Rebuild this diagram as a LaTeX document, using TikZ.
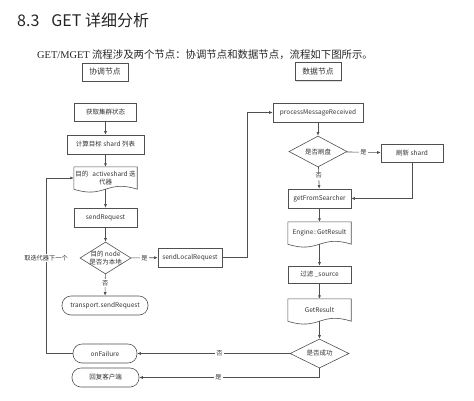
\documentclass[tikz,border=0pt]{standalone}
\usepackage{fontspec}
\setmainfont{Noto Sans CJK SC}
\newfontfamily\latinserif{Liberation Serif}
\usetikzlibrary{%
        arrows.meta,
        shapes.geometric,
        shadows
    }
\definecolor{inkgray}{RGB}{80, 80, 80}
\tikzset{%
    box/.style={%
        draw=inkgray, line width=0.6pt, text=black!80,
        minimum width=63pt, minimum height=19pt, inner sep=1pt,
        font=\fontsize{6.5}{8}\selectfont, align=center
    },
    headbox/.style={%
        box, minimum width=46pt, minimum height=18pt,
        font=\fontsize{7.8}{9}\selectfont, fill=white,
        drop shadow={shadow xshift=1pt, shadow yshift=-1pt, opacity=0.25}
    },
    docbox/.style={%
        draw=none, text=black!80, minimum width=63pt, minimum height=22pt,
        inner sep=1pt, font=\fontsize{6.5}{8}\selectfont, align=center
    },
    roundbox/.style={box, rounded corners=9pt},
    decision/.style={%
        diamond, draw=inkgray, line width=0.6pt, inner sep=0pt
    },
    small/.style={%
        text=black!80, inner sep=0pt,
        font=\fontsize{6.5}{8}\selectfont, align=center
    },
    tag/.style={small, fill=white, inner sep=1.5pt, font=\fontsize{6.2}{7}\selectfont},
    flow/.style={%
        draw=inkgray, line width=0.6pt,
        -{Latex[length=3.5pt, width=3pt]}
    }
}
% wavy bottom of a document shape
\newcommand{\wavebottom}[1]{%
    \draw[inkgray, line width=0.6pt]
        (#1.south west) -- (#1.north west) -- (#1.north east) -- (#1.south east)
        .. controls +(-31pt, 10pt) and +(31pt, -10pt) .. (#1.south west);
}

\begin{document}
\begin{tikzpicture}[x=1pt, y=-1pt]
    \useasboundingbox (0, 0) rectangle (474, 400);

    % Heading
    \node[anchor=west, inner sep=0pt, font=\fontsize{16}{18}\selectfont, text=black!85]
        (title) at (17, 20) {8.3\hspace{12pt}GET 详细分析};
    \node[anchor=west, inner sep=0pt, font=\fontsize{10.4}{12}\selectfont, text=black!85]
        (intro) at (37, 55)
        {{\latinserif GET/MGET} 流程涉及两个节点：协调节点和数据节点，流程如下图所示。};

    % Coordinating node
    \node[headbox] (coord-head) at (105, 72) {协调节点};
    \node[box, minimum width=62pt, minimum height=18pt] (cluster-state) at (105.5, 112) {获取集群状态};
    \node[box, minimum width=77pt] (target-shards) at (105.5, 144.5) {计算目标 shard 列表};
    \node[docbox] (shard-iter) at (105.5, 178) {目的\hspace{4pt}activeshard 迭\\代器};
    \wavebottom{shard-iter}
    \node[box] (send-req) at (105.5, 217.5) {sendRequest};
    \node[decision, minimum width=51pt, minimum height=32pt] (is-local) at (105.5, 258) {};
    \node[small] (is-local-text) at (is-local) {目的 node\\是否为本地};
    \node[box, minimum width=64pt] (local-req) at (190, 257.5) {sendLocalRequest};
    \node[roundbox, minimum width=86pt] (transport) at (105, 305.5) {transport.sendRequest};
    \node[roundbox, minimum width=64pt] (on-failure) at (105, 353.5) {onFailure};
    \node[roundbox, minimum width=67pt] (reply) at (105.5, 377.5) {回复客户端};

    % Data node
    \node[headbox] (data-head) at (318, 71.5) {数据节点};
    \node[box, minimum width=90pt] (process) at (318, 112.5) {processMessageReceived};
    \node[decision, minimum width=58pt, minimum height=31pt] (flush) at (318, 151.5) {};
    \node[small] (flush-text) at (flush) {是否刷盘};
    \node[box, minimum width=62pt, minimum height=18pt] (refresh) at (412, 153) {刷新 shard};
    \node[box] (searcher) at (319.5, 198.5) {getFromSearcher};
    \node[docbox] (engine) at (319.5, 233) {Engine::GetResult};
    \wavebottom{engine}
    \node[box, minimum height=17pt] (filter) at (319.5, 274.5) {过滤 \_source};
    \node[docbox] (get-result) at (319.5, 310) {GetResult};
    \wavebottom{get-result}
    \node[decision, minimum width=59pt, minimum height=29pt] (success) at (319.5, 353.5) {};
    \node[small] (success-text) at (success) {是否成功};

    \coordinate (loop-x) at (46, 0);
    \coordinate (link-x) at (247, 0);

    % Coordinating flow
    \draw[flow] (cluster-state) -- (target-shards);
    \draw[flow] (target-shards) -- (shard-iter);
    \draw[flow] (shard-iter) -- (send-req);
    \draw[flow] (send-req) -- (is-local);
    \draw[flow] (is-local) -- node[tag] {是} (local-req);
    \draw[flow] (is-local) -- node[tag, pos=0.42] {否} (transport);
    \draw[flow] (on-failure.west) -- (on-failure.west -| loop-x) |- (shard-iter.west);
    \node[tag] (next-tag) at (loop-x |- is-local) {取迭代器下一个};
    \draw[flow] (local-req.east) -- (local-req.east -| link-x) |- (process.west);

    % Data flow
    \draw[flow] (process) -- (flush);
    \draw[flow] (flush) -- node[tag] {是} (refresh);
    \draw[flow] (flush) -- node[tag, pos=0.4] {否} (searcher);
    \draw[flow] (refresh.south) |- (searcher.east);
    \draw[flow] (searcher) -- (engine);
    \draw[flow] (engine) -- (filter);
    \draw[flow] (filter) -- (get-result);
    \draw[flow] (get-result) -- (success);
    \draw[flow] (success) -- node[tag, pos=0.46] {否} (on-failure);
    \draw[flow] (success.south) |- node[tag, pos=0.78] {是} (reply.east);

\end{tikzpicture}
\end{document}
